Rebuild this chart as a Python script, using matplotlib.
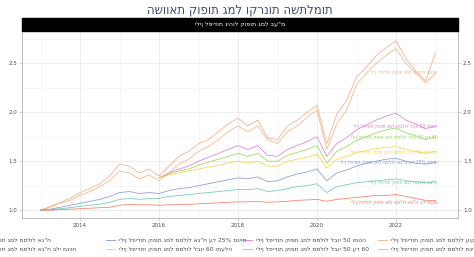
import numpy as np
import matplotlib
matplotlib.use("Agg")
import matplotlib.pyplot as plt
from matplotlib.lines import Line2D
from matplotlib.patches import Rectangle

plt.rcParams['font.family'] = ['DejaVu Sans']

title = "השוואת קופות גמל וקרנות השתלמות"
strip_label = 'ילין לפידות ניהול קופות גמל בע"מ'

dates = [2013.00, 2013.25, 2013.50, 2013.75, 2014.00, 2014.25, 2014.50, 2014.75,
         2015.00, 2015.25, 2015.50, 2015.75, 2016.00, 2016.25, 2016.50, 2016.75,
         2017.00, 2017.25, 2017.50, 2017.75, 2018.00, 2018.25, 2018.50, 2018.75,
         2019.00, 2019.25, 2019.50, 2019.75, 2020.00, 2020.25, 2020.50, 2020.75,
         2021.00, 2021.25, 2021.50, 2021.75, 2022.00, 2022.25, 2022.50, 2022.75,
         2023.00]
nan = np.nan

s_bench = [1.00, 1.04, 1.08, 1.12, 1.18, 1.22, 1.27, 1.35, 1.47, 1.45, 1.38, 1.42,
           1.35, 1.45, 1.55, 1.60, 1.68, 1.72, 1.80, 1.88, 1.94, 1.86, 1.92, 1.74,
           1.72, 1.86, 1.92, 2.00, 2.07, 1.68, 1.98, 2.12, 2.36, 2.46, 2.58, 2.66,
           2.73, 2.55, 2.42, 2.32, 2.61]
s_stocks = [1.00, 1.03, 1.07, 1.10, 1.15, 1.19, 1.24, 1.30, 1.40, 1.38, 1.32, 1.36,
            1.30, 1.38, 1.47, 1.52, 1.60, 1.65, 1.72, 1.80, 1.86, 1.80, 1.86, 1.72,
            1.68, 1.80, 1.86, 1.95, 2.02, 1.62, 1.88, 2.02, 2.28, 2.40, 2.50, 2.58,
            2.65, 2.50, 2.40, 2.30, 2.40]
s_age50 = [nan]*12 + [1.33, 1.38, 1.42, 1.45, 1.50, 1.54, 1.58, 1.62, 1.66, 1.62, 1.66, 1.56,
           1.55, 1.62, 1.66, 1.70, 1.75, 1.55, 1.68, 1.74, 1.82, 1.87, 1.92, 1.96,
           1.99, 1.92, 1.88, 1.83, 1.86]
s_age5060 = [nan]*12 + [1.33, 1.37, 1.40, 1.42, 1.46, 1.49, 1.52, 1.55, 1.58, 1.55, 1.58, 1.50,
             1.50, 1.56, 1.59, 1.62, 1.66, 1.48, 1.60, 1.65, 1.71, 1.75, 1.79, 1.82,
             1.84, 1.79, 1.76, 1.72, 1.75]
s_age60 = [nan]*12 + [1.33, 1.36, 1.38, 1.40, 1.42, 1.44, 1.46, 1.48, 1.50, 1.48, 1.50, 1.45,
           1.45, 1.50, 1.52, 1.54, 1.57, 1.43, 1.52, 1.55, 1.59, 1.61, 1.63, 1.64,
           1.65, 1.62, 1.60, 1.58, 1.60]
s_bond25 = [1.00, 1.01, 1.03, 1.05, 1.07, 1.09, 1.11, 1.14, 1.18, 1.19, 1.17, 1.18,
            1.17, 1.20, 1.22, 1.23, 1.25, 1.27, 1.29, 1.31, 1.33, 1.32, 1.34, 1.29,
            1.30, 1.34, 1.37, 1.39, 1.42, 1.30, 1.38, 1.41, 1.45, 1.48, 1.50, 1.52,
            1.53, 1.50, 1.48, 1.47, 1.49]
s_bond = [1.00, 1.005, 1.015, 1.025, 1.04, 1.05, 1.06, 1.08, 1.11, 1.12, 1.11, 1.12,
          1.12, 1.14, 1.15, 1.16, 1.17, 1.18, 1.19, 1.20, 1.21, 1.21, 1.22, 1.19,
          1.20, 1.22, 1.24, 1.25, 1.27, 1.18, 1.24, 1.26, 1.28, 1.29, 1.30, 1.31,
          1.32, 1.30, 1.29, 1.28, 1.29]
s_nostock = [1.00, 1.00, 1.005, 1.01, 1.015, 1.02, 1.025, 1.03, 1.05, 1.06, 1.055, 1.055,
             1.05, 1.055, 1.06, 1.06, 1.065, 1.07, 1.075, 1.08, 1.085, 1.085, 1.09, 1.08,
             1.085, 1.09, 1.10, 1.105, 1.11, 1.09, 1.11, 1.12, 1.13, 1.14, 1.15, 1.15,
             1.16, 1.14, 1.12, 1.10, 1.10]

names = ['ילין לפידות קופת גמל מסלול עוקב מדדים',
         'ילין לפידות קופת גמל מסלול מניות',
         'ילין לפידות קופת גמל מסלול לבני 50 ומטה',
         'ילין לפידות קופת גמל מסלול לבני 50 עד 60',
         'ילין לפידות קופת גמל מסלול לבני 60 ומעלה',
         'ילין לפידות קופת גמל מסלול אג"ח עד 25% מניות',
         'ילין לפידות קופת גמל מסלול אג"ח',
         'ילין לפידות קופת גמל מסלול אג"ח בלי מניות']
series = [s_bench, s_stocks, s_age50, s_age5060, s_age60, s_bond25, s_bond, s_nostock]
colors = ['#f7a98a', '#f2b47e', '#e07ad6', '#9bd35a', '#f5d63a', '#8596d6', '#6cc7b0', '#f47a62']
label_y = [None, 2.41, 1.85, 1.74, 1.59, 1.485, 1.28, 1.075]

fig = plt.figure(figsize=(4.74, 2.57), dpi=100)
ax = fig.add_axes([22/474, 1-218/257, (458-22)/474, (218-31)/257])

years = [2014, 2016, 2018, 2020, 2022]
yt = [1.0, 1.5, 2.0, 2.5]
ax.set_xlim(2012.53, 2023.57)
ax.set_ylim(0.92, 2.83)
ax.set_xticks(years)
ax.set_xticklabels([str(y) for y in years])
ax.set_xticks([2013, 2015, 2017, 2019, 2021, 2023], minor=True)
ax.set_yticks(yt)
ax.set_yticklabels([f"{v:.1f}" for v in yt])
ax.set_yticks([1.25, 1.75, 2.25, 2.75], minor=True)
ax.grid(which='major', color='#e6e6e6', lw=0.5)
ax.grid(which='minor', color='#f2f2f2', lw=0.4)
ax.set_axisbelow(True)
for sp in ax.spines.values():
    sp.set_color('#b3b3b3')
    sp.set_linewidth(0.6)
ax.tick_params(which='major', labelsize=4, colors='#b3b3b3', length=2, width=0.4,
               labelcolor='#4d4d4d', pad=1.5)
ax.tick_params(which='minor', length=0)
ax.tick_params(axis='y', right=True, labelright=True)

for s, c in zip(series, colors):
    ax.plot(dates, s, color=c, lw=0.6, alpha=0.9)

for nm, c, ly in zip(names, colors, label_y):
    if ly is None:
        continue
    ax.text(2023.05, ly, nm, color=c, fontsize=3.3, ha='right', va='center')

# strip
fig.patches.append(Rectangle((22/474, 1-31/257), (458-22)/474, 13/257,
                             transform=fig.transFigure, color='black'))
fig.text(240/474, 1-24.5/257, strip_label, color='white', fontsize=4.5,
         ha='center', va='center')
fig.text(240/474, 1-10/257, title, color='#3d4b6e', fontsize=8.5,
         ha='center', va='center')

# legend (two rows, wider than the figure; clipped at both sides)
leg_order = [[6, 5, 2, 0], [7, 4, 3, 1]]
key_x = [-50, 106, 243, 378]
row_y = [240, 249]
for r, idxs in enumerate(leg_order):
    for kx, i in zip(key_x, idxs):
        yy = 1 - row_y[r]/257
        fig.add_artist(Line2D([(kx)/474, (kx+9)/474], [yy, yy], color=colors[i],
                              lw=0.6, transform=fig.transFigure))
        fig.text((kx+13)/474, yy, names[i], fontsize=4.3, color='#4d4d4d',
                 ha='left', va='center')

fig.savefig('out.png', dpi=100)
